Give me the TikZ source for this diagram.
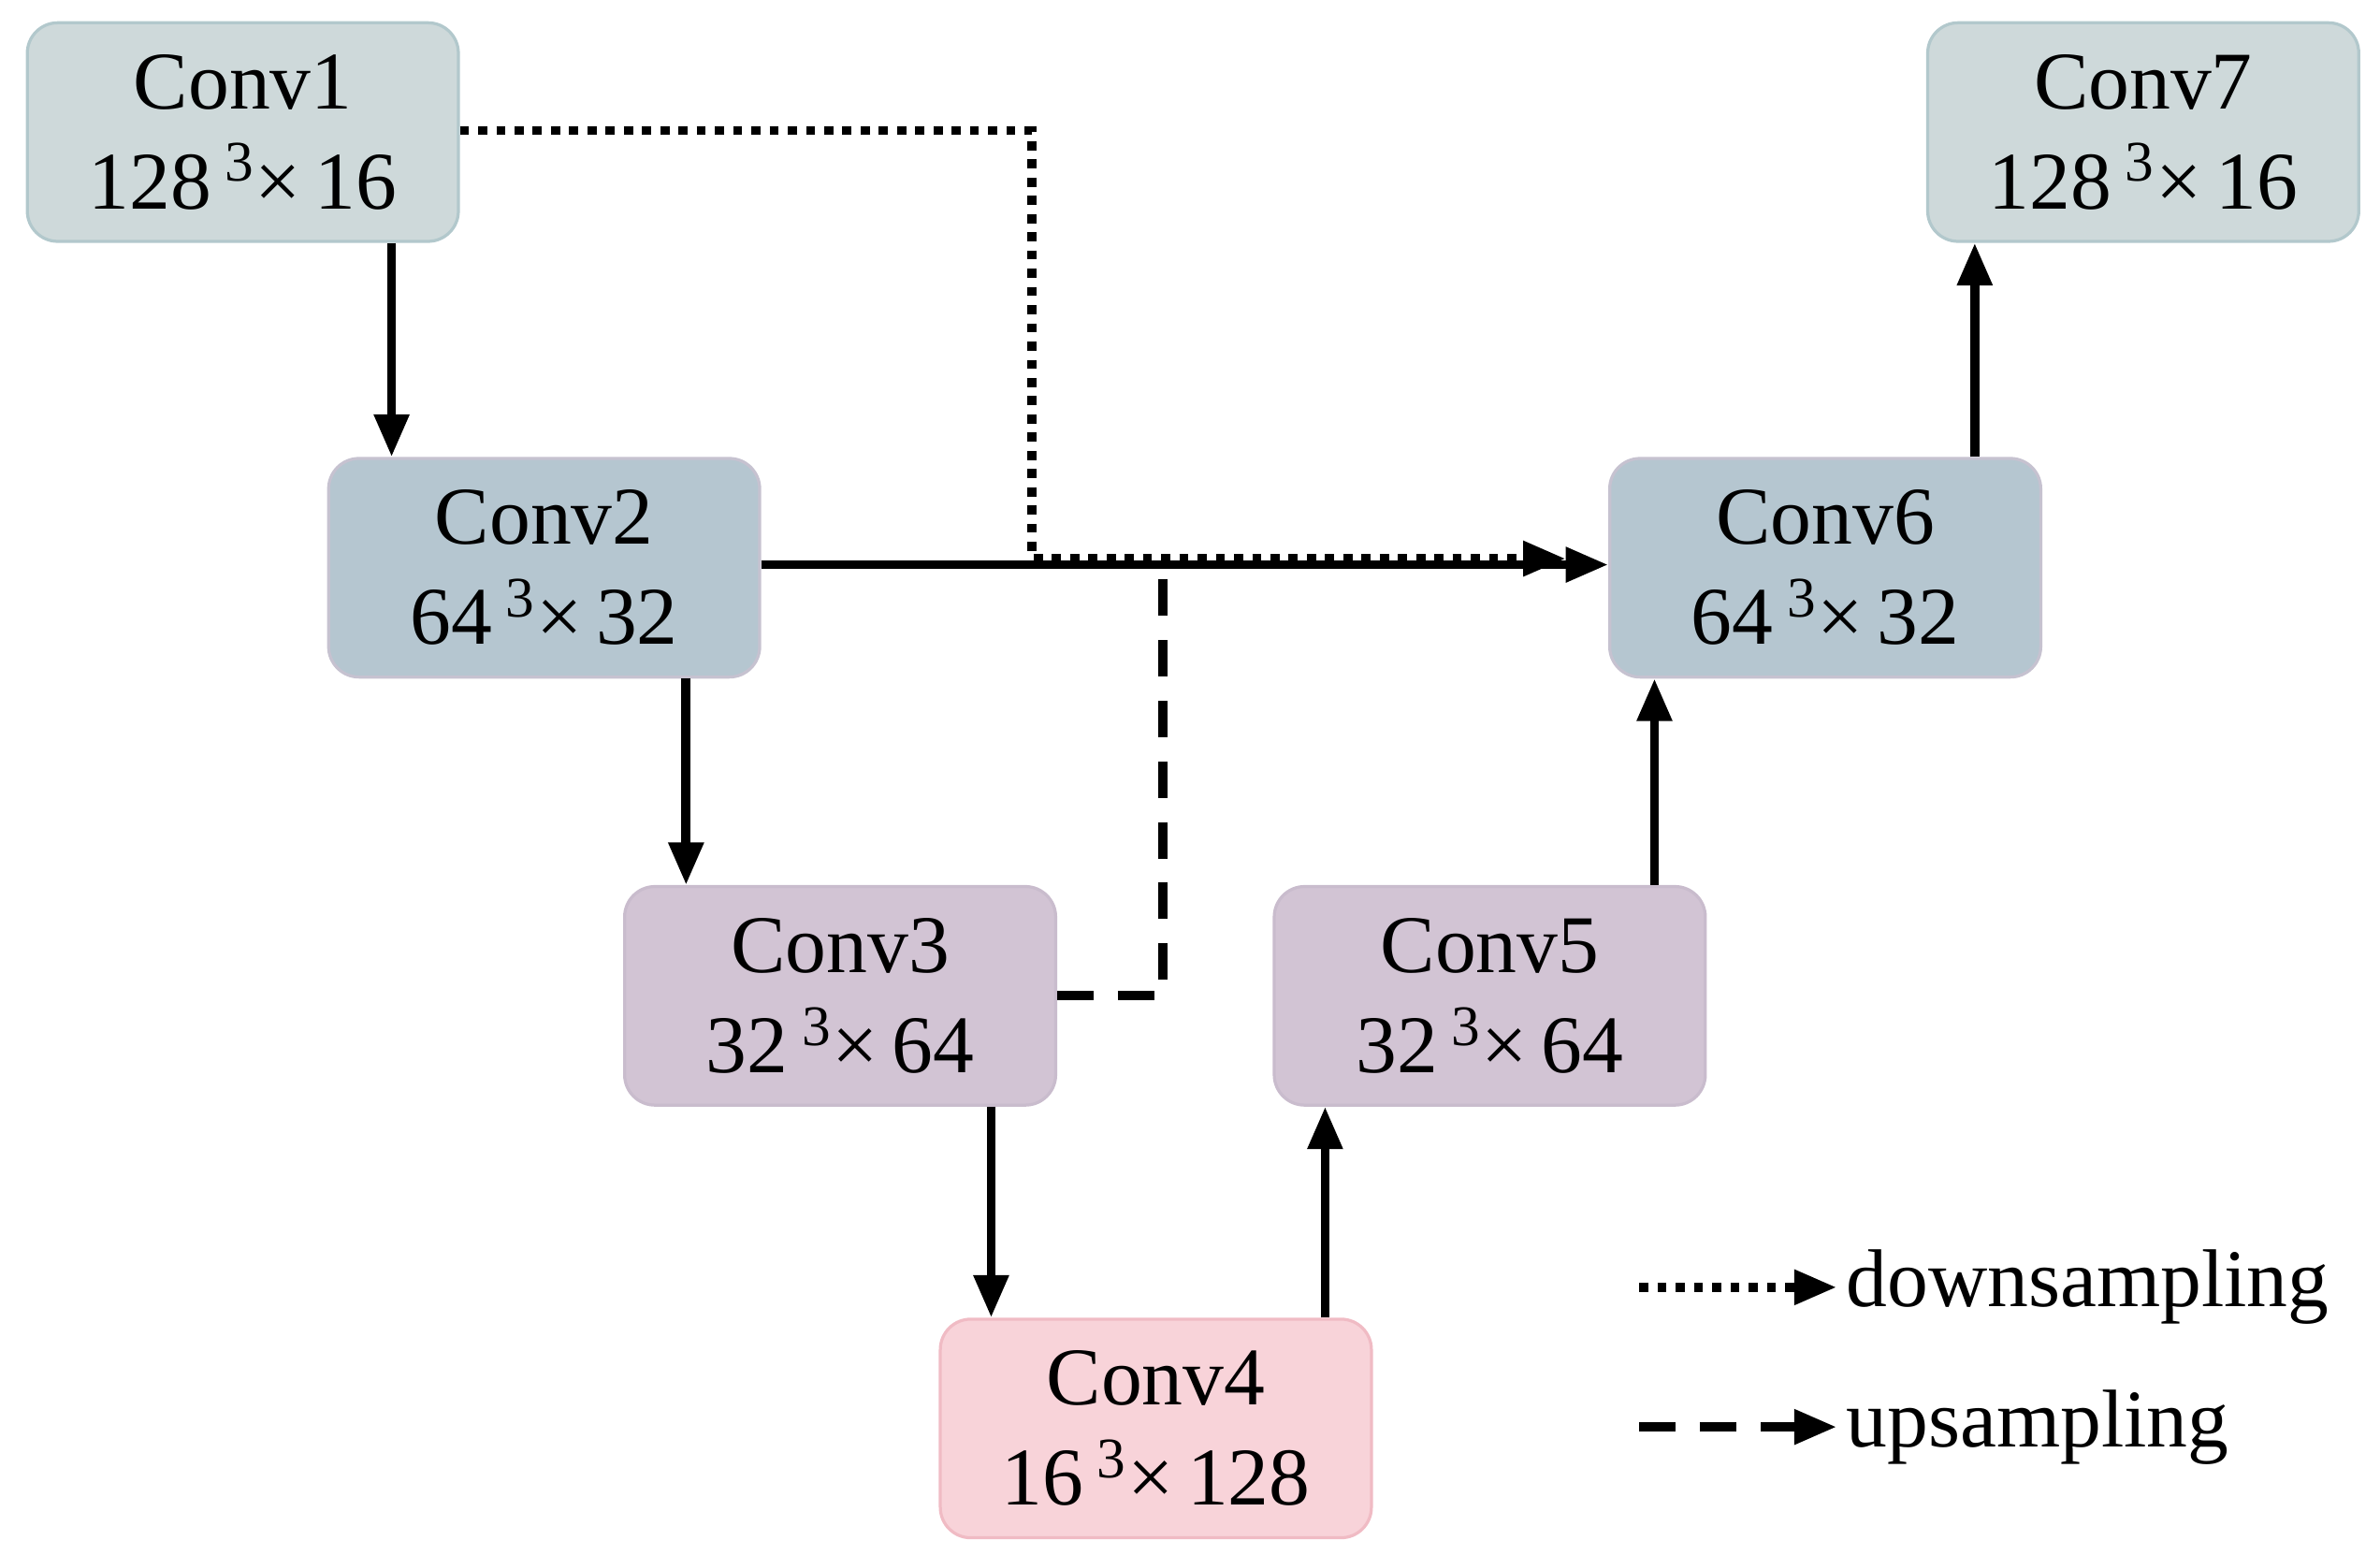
\documentclass[tikz,border=0pt]{standalone}
\usepackage{fontspec}
\setmainfont{Liberation Serif}
\usetikzlibrary{arrows.meta}
\definecolor{cA}{HTML}{CED9DA}\definecolor{bA}{HTML}{B2C8CC}
\definecolor{cB}{HTML}{B5C6D0}\definecolor{bB}{HTML}{C6C2D0}
\definecolor{cC}{HTML}{D2C4D4}\definecolor{bC}{HTML}{C9BCCD}
\definecolor{cD}{HTML}{F8D3D9}\definecolor{bD}{HTML}{F0BBC4}
\begin{document}
\begin{tikzpicture}[x=0.5pt,y=-0.5pt,
 box/.style={rounded corners=10pt,minimum width=142pt,minimum height=72pt,line width=1pt,align=center,font=\fontsize{27}{33}\selectfont,inner sep=0pt},
 ar/.style={line width=3pt,-{Triangle[length=14pt,width=11pt]}},
 dot/.style={dash pattern=on 3pt off 3pt},
 dsh/.style={dash pattern=on 12pt off 8pt}]
\useasboundingbox (0,0) rectangle (1568,1024);
\newcommand{\lab}[3]{#1\\#2\,\textsuperscript{3}×\,#3}
\node[box,fill=cA,draw=bA] (c1) at (160,87) {\lab{Conv1}{128}{16}};
\node[box,fill=cA,draw=bA] (c7) at (1412,87) {\lab{Conv7}{128}{16}};
\node[box,fill=cB,draw=bB] (c2) at (358.5,374) {\lab{Conv2}{64}{32}};
\node[box,fill=cB,draw=bB] (c6) at (1202.5,374) {\lab{Conv6}{64}{32}};
\node[box,fill=cC,draw=bC] (c3) at (553.5,656) {\lab{Conv3}{32}{64}};
\node[box,fill=cC,draw=bC] (c5) at (981.5,656) {\lab{Conv5}{32}{64}};
\node[box,fill=cD,draw=bD] (c4) at (761.5,941) {\lab{Conv4}{16}{128}};
\draw[ar] (c1.south -| 258,0) -- (c2.north -| 258,0);
\draw[ar] (c2.south -| 452,0) -- (c3.north -| 452,0);
\draw[ar] (c3.south -| 653,0) -- (c4.north -| 653,0);
\draw[ar] (c4.north -| 873,0) -- (c5.south -| 873,0);
\draw[ar] (c5.north -| 1090,0) -- (c6.south -| 1090,0);
\draw[ar] (c6.north -| 1301,0) -- (c7.south -| 1301,0);
\draw[ar] (c2.east |- 0,372) -- (c6.west |- 0,372);
\coordinate (d1) at (680,86);
\coordinate (d2) at (680,368);
\draw[line width=3pt,dot,-{Triangle[length=14pt,width=11pt]}] (c1.east |- 0,86) -- (d1) -- (d2) -- ([xshift=-14pt]c6.west |- 0,368);
\coordinate (u1) at (766,656);
\coordinate (u2) at (766,374);
\draw[line width=3pt,dsh] (c3.east |- 0,656) -- (u1) -- (u2);
\coordinate (l1) at (1080,848);\coordinate (l2) at (1210,848);
\coordinate (l3) at (1080,940);\coordinate (l4) at (1210,940);
\draw[line width=3pt,dot,-{Triangle[length=14pt,width=11pt]}] (l1) -- (l2);
\draw[line width=3pt,dsh,-{Triangle[length=14pt,width=11pt]}] (l3) -- (l4);
\node[anchor=west,inner sep=0pt,font=\fontsize{27}{33}\selectfont] (t1) at (1216,848) {downsampling};
\node[anchor=west,inner sep=0pt,font=\fontsize{27}{33}\selectfont] (t2) at (1216,940) {upsampling};
\end{tikzpicture}
\end{document}
